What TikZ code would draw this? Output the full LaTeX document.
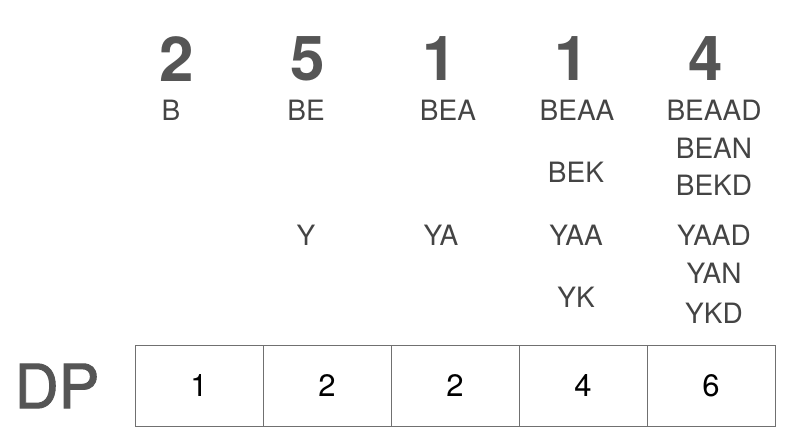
\documentclass[tikz,border=0pt]{standalone}
\usepackage{fontspec}
\setmainfont{TeX Gyre Heros}
\newfontfamily\dpFont[FakeBold=1.6]{TeX Gyre Heros}
\definecolor{digitGray}{HTML}{555555}
\definecolor{wordGray}{HTML}{444444}
\definecolor{lineGray}{HTML}{707070}
\begin{document}
\begin{tikzpicture} [x=1pt,y=-1pt,
	count/.style={text=digitGray,font=\fontsize{62}{62}\selectfont\bfseries,inner sep=0pt},
	word/.style={text=wordGray,font=\fontsize{28}{28}\selectfont,inner sep=0pt},
	cell/.style={shape=rectangle,minimum width=128pt,minimum height=81pt,draw=lineGray,line width=0.9pt,font=\fontsize{31}{31}\selectfont,inner sep=0pt}]
	\useasboundingbox (0,0) rectangle (800,438);

	% counts per column
	\node (countOne) at (177,59)[count] {2};
	\node (countTwo) at (308,59)[count] {5};
	\node (countThree) at (440,59)[count] {1};
	\node (countFour) at (572,59)[count] {1};
	\node (countFive) at (706,59)[count] {4};

	% words ending with B...
	\node (wordB) at (171,110)[word] {B};
	\node (wordBE) at (306,110)[word] {BE};
	\node (wordBEA) at (448,110)[word] {BEA};
	\node (wordBEAA) at (577,110)[word] {BEAA};
	\node (wordBEAAD) at (714,110)[word] {BEAAD};
	\node (wordBEK) at (576,172)[word] {BEK};
	\node (wordBEAN) at (714,148)[word] {BEAN};
	\node (wordBEKD) at (714,185)[word] {BEKD};

	% words ending with Y...
	\node (wordY) at (306,235)[word] {Y};
	\node (wordYA) at (441,235)[word] {YA};
	\node (wordYAA) at (576,235)[word] {YAA};
	\node (wordYAAD) at (714,235)[word] {YAAD};
	\node (wordYK) at (576,297)[word] {YK};
	\node (wordYAN) at (714,273)[word] {YAN};
	\node (wordYKD) at (714,313)[word] {YKD};

	% dp table
	\node (dpLabel) at (57,386)[text=digitGray,font=\fontsize{61}{61}\dpFont,inner sep=0pt] {DP};
	\node (cellOne) at (199,386)[cell] {1};
	\node (cellTwo) at (327,386)[cell] {2};
	\node (cellThree) at (455,386)[cell] {2};
	\node (cellFour) at (583,386)[cell] {4};
	\node (cellFive) at (711,386)[cell] {6};
\end{tikzpicture}
\end{document}
